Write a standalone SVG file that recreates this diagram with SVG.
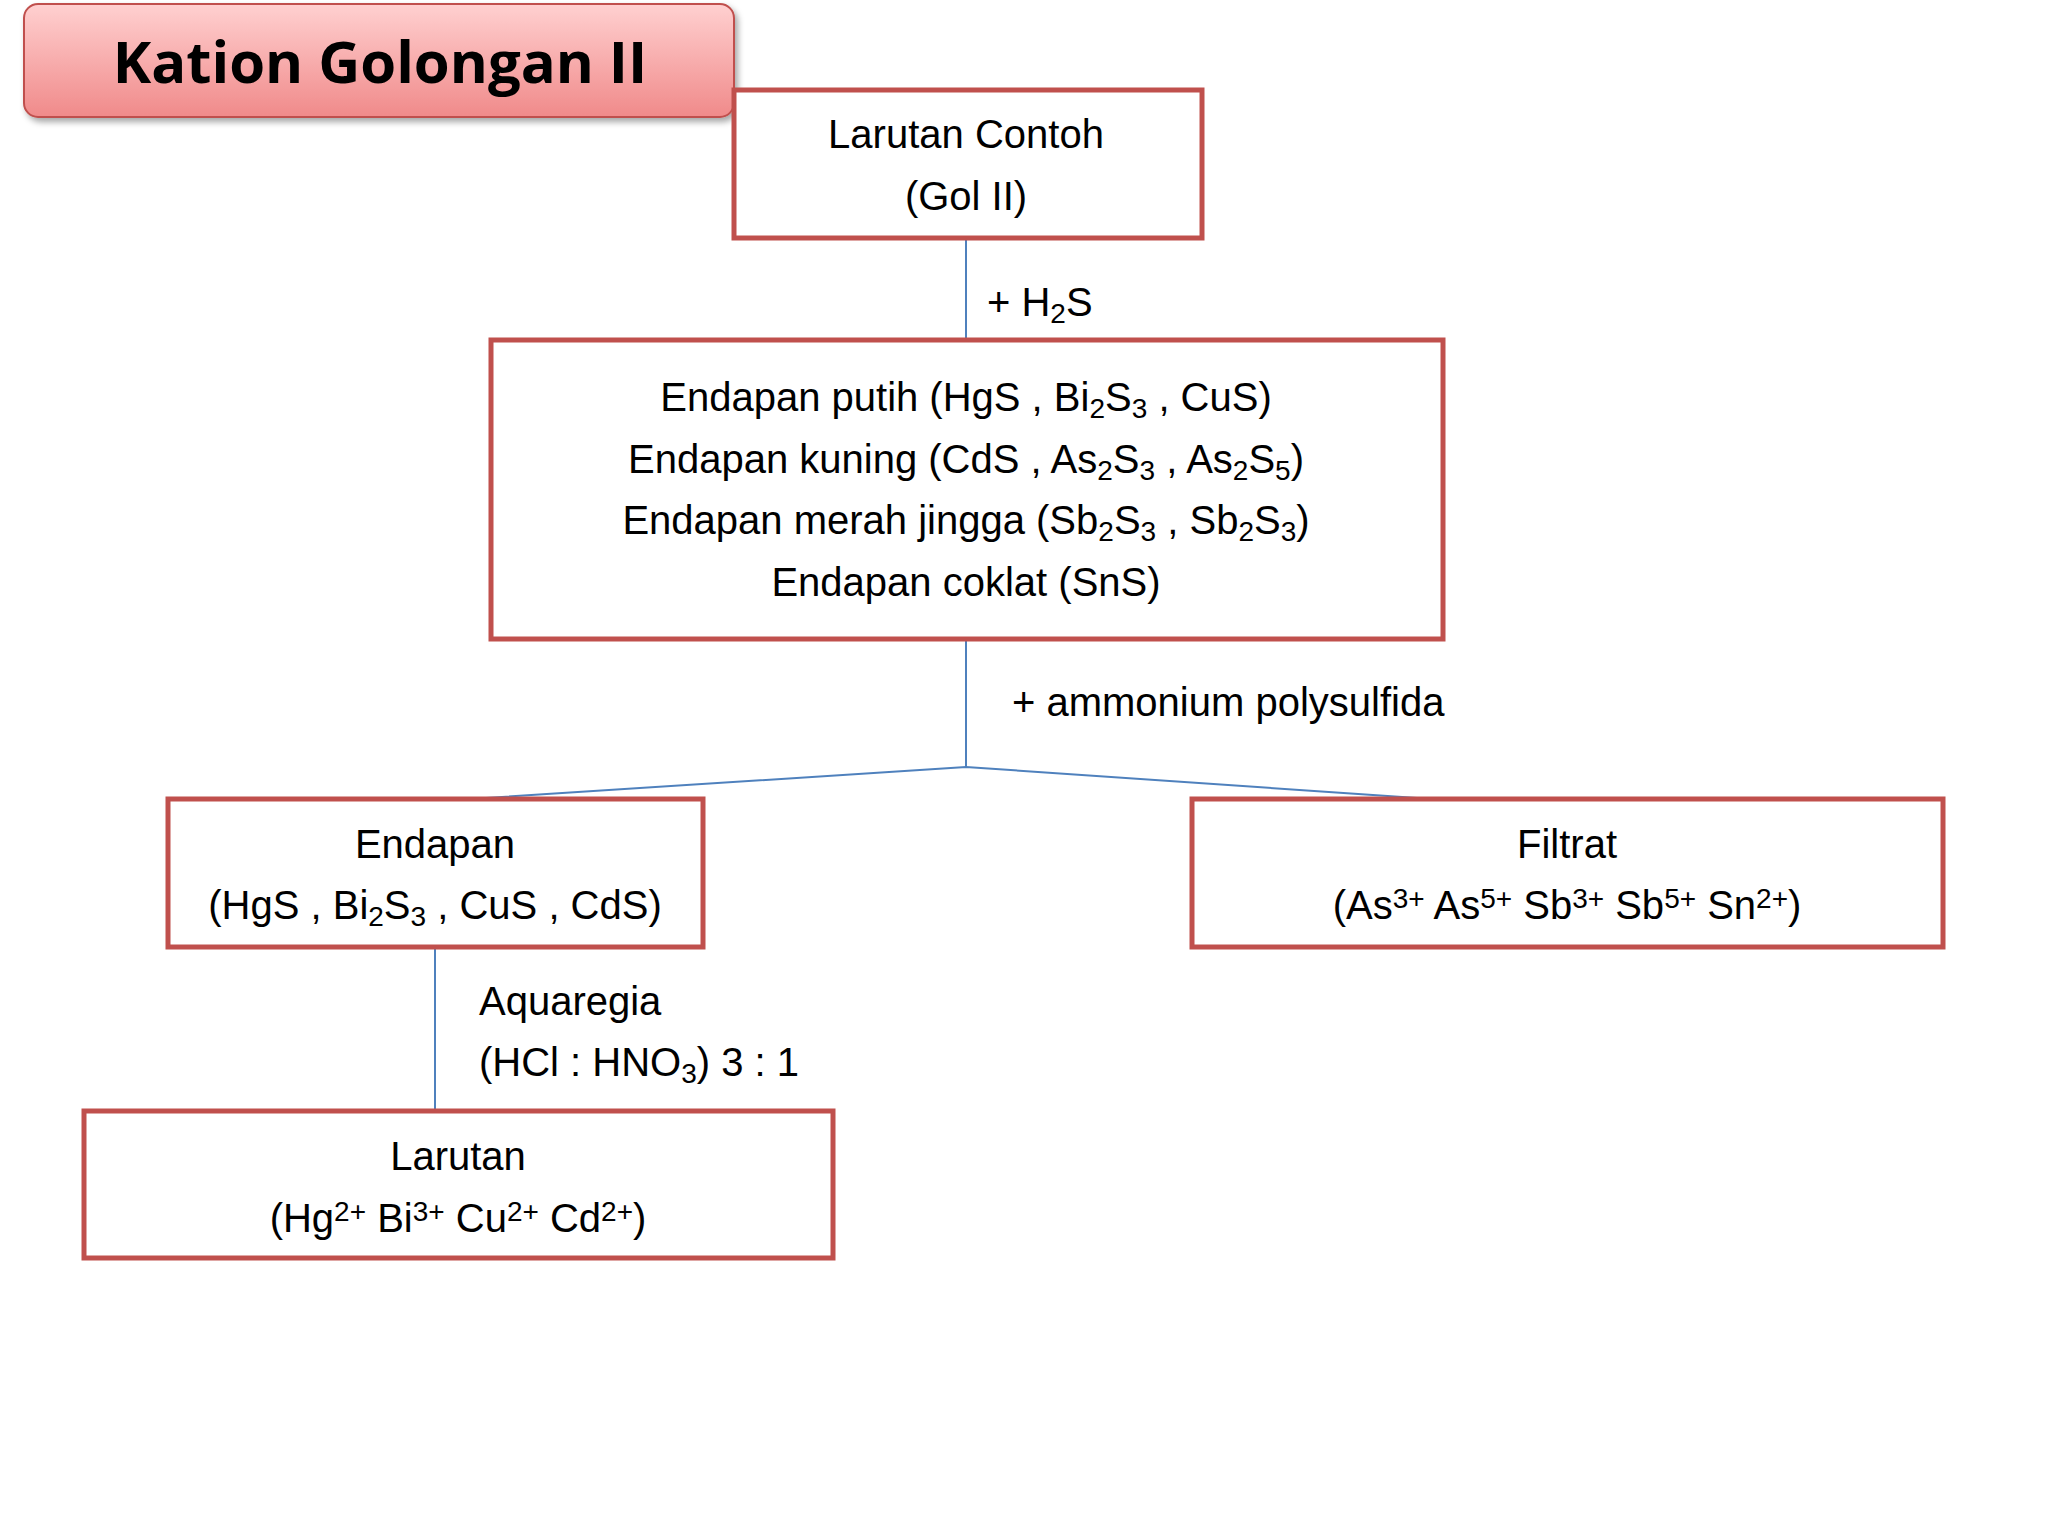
<svg xmlns="http://www.w3.org/2000/svg" width="2048" height="1536" viewBox="0 0 2048 1536">
<style>
.box{fill:#fff;stroke:#c0504d;stroke-width:5}
.t{font-family:"Liberation Sans",Arial,sans-serif;font-size:40px;fill:#000;text-anchor:middle}
.l{font-family:"Liberation Sans",Arial,sans-serif;font-size:40px;fill:#000}
.c{stroke:#4f81bd;stroke-width:2;fill:none}
.sb{font-size:28px;baseline-shift:-25%}
.sp{font-size:28px;baseline-shift:40%}
</style>
<defs>
<linearGradient id="g" x1="0" y1="0" x2="0" y2="1">
<stop offset="0" stop-color="#ffd0d0"/><stop offset="1" stop-color="#f08a8a"/>
</linearGradient>
<filter id="sh" x="-5%" y="-20%" width="110%" height="150%"><feDropShadow dx="3" dy="4" stdDeviation="3" flood-opacity="0.35"/></filter>
</defs>
<rect width="2048" height="1536" fill="#fff"/>
<g id="title">
<rect x="24" y="4" width="710" height="113" rx="14" fill="url(#g)" stroke="#c0504d" stroke-width="2" filter="url(#sh)"/>
<text x="380" y="83" style="font-family:'Open Sans','Liberation Sans',sans-serif;font-size:58px;font-weight:bold;text-anchor:middle">Kation Golongan II</text>
</g>
<g id="connectors">
<line class="c" x1="966" y1="238" x2="966" y2="340"/>
<line class="c" x1="966" y1="639" x2="966" y2="767"/>
<polyline class="c" points="486,798 966,767 1417,798"/>
<line class="c" x1="435" y1="947" x2="435" y2="1111"/>
<text class="l" x="987" y="316">+ H<tspan class="sb">2</tspan>S</text>
<text class="l" x="1012" y="716">+ ammonium polysulfida</text>
<text class="l" x="479" y="1015">Aquaregia</text>
<text class="l" x="479" y="1076">(HCl : HNO<tspan class="sb">3</tspan>) 3 : 1</text>
</g>
<g id="n1">
<rect class="box" x="734" y="90" width="468" height="148"/>
<text class="t" x="966" y="148">Larutan Contoh</text>
<text class="t" x="966" y="210">(Gol II)</text>
</g>
<g id="n2">
<rect class="box" x="491" y="340" width="952" height="299"/>
<text class="t" x="966" y="411">Endapan putih (HgS , Bi<tspan class="sb">2</tspan>S<tspan class="sb">3</tspan> , CuS)</text>
<text class="t" x="966" y="473">Endapan kuning (CdS , As<tspan class="sb">2</tspan>S<tspan class="sb">3</tspan> , As<tspan class="sb">2</tspan>S<tspan class="sb">5</tspan>)</text>
<text class="t" x="966" y="534">Endapan merah jingga (Sb<tspan class="sb">2</tspan>S<tspan class="sb">3</tspan> , Sb<tspan class="sb">2</tspan>S<tspan class="sb">3</tspan>)</text>
<text class="t" x="966" y="596">Endapan coklat (SnS)</text>
</g>
<g id="n3">
<rect class="box" x="168" y="799" width="535" height="148"/>
<text class="t" x="435" y="858">Endapan</text>
<text class="t" x="435" y="919">(HgS , Bi<tspan class="sb">2</tspan>S<tspan class="sb">3</tspan> , CuS , CdS)</text>
</g>
<g id="n4">
<rect class="box" x="1192" y="799" width="751" height="148"/>
<text class="t" x="1567" y="858">Filtrat</text>
<text class="t" x="1567" y="919">(As<tspan class="sp">3+</tspan> As<tspan class="sp">5+</tspan> Sb<tspan class="sp">3+</tspan> Sb<tspan class="sp">5+</tspan> Sn<tspan class="sp">2+</tspan>)</text>
</g>
<g id="n5">
<rect class="box" x="84" y="1111" width="749" height="147"/>
<text class="t" x="458" y="1170">Larutan</text>
<text class="t" x="458" y="1232">(Hg<tspan class="sp">2+</tspan> Bi<tspan class="sp">3+</tspan> Cu<tspan class="sp">2+</tspan> Cd<tspan class="sp">2+</tspan>)</text>
</g>
</svg>
